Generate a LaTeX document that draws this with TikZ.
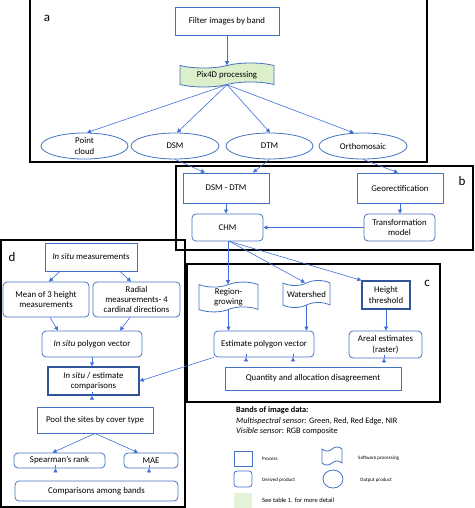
\documentclass[tikz,border=0pt]{standalone}
\usepackage{fontspec}
\setmainfont{Carlito}
\usetikzlibrary{shapes.geometric,shapes.symbols,calc,arrows.meta}
\definecolor{nb}{HTML}{4472C4}
\definecolor{ab}{HTML}{3F6FD8}
\definecolor{db}{HTML}{2F5597}
\definecolor{gf}{HTML}{DCEFCB}
\definecolor{lg}{HTML}{E3F2D9}
\begin{document}
\begin{tikzpicture}[x=1pt,y=-1pt,
  font=\fontsize{8.8}{10.3}\selectfont,
  box/.style={draw=nb, line width=0.8pt, inner sep=1pt, align=center},
  proc/.style={box},
  procB/.style={box, draw=db, line width=1.4pt},
  deriv/.style={box, rounded corners=4pt},
  outp/.style={box, ellipse},
  soft/.style={box, tape, tape bend top=in and out, tape bend bottom=in and out, tape bend height=5pt},
  panel/.style={draw=black, line width=1.2pt},
  arr/.style={-{Triangle[length=4pt,width=4pt]}, draw=ab, line width=0.6pt},
  plab/.style={font=\fontsize{13}{13}\selectfont, inner sep=0pt},
  legs/.style={font=\fontsize{5}{6}\selectfont, anchor=west, inner sep=0pt},
  legt/.style={font=\fontsize{8.3}{10}\selectfont, anchor=west, inner sep=0pt}]
\useasboundingbox (0,0) rectangle (474,508);
% panels
\draw[panel] (30,-5) rectangle (427,162);
\draw[panel] (176,166) rectangle (473,250);
\draw[panel] (1,240) rectangle (185,507);
\draw[panel] (187,264) rectangle (440,402);
\node[plab] (la) at (47,18) {a};
\node[plab] (lb) at (462,181) {b};
\node[plab] (lc) at (427,283) {c};
\node[plab] (ld) at (12,257) {d};
% panel a
\node[proc, minimum width=104pt, minimum height=28pt] (filter) at (227,21) {Filter images by band};
\node[soft, fill=gf, minimum width=94pt, minimum height=24pt] (pix) at (227,75) {Pix4D processing};
\node[outp, minimum width=87pt, minimum height=26pt] (pc) at (84.5,146) {Point\\cloud};
\node[outp, minimum width=88pt, minimum height=26pt] (dsm) at (175,146) {DSM};
\node[outp, minimum width=87pt, minimum height=26pt] (dtm) at (269.5,146) {DTM};
\node[outp, minimum width=88pt, minimum height=26pt] (ortho) at (363,146) {Orthomosaic};
\draw[arr] (filter.south) -- (pix.north);
\draw[arr] (pix.south) -- ($(pc.north)+(2.5,0)$);
\draw[arr] (pix.south) -- ($(dsm.north)+(2,0)$);
\draw[arr] (pix.south) -- ($(dtm.north)+(0.5,0)$);
\draw[arr] (pix.south) -- (ortho.125);
% panel b
\node[proc, minimum width=86pt, minimum height=30pt] (dd) at (226,188) {DSM - DTM};
\node[proc, minimum width=86pt, minimum height=30pt] (geo) at (400,188) {Georectification};
\node[deriv, minimum width=71pt, minimum height=27pt] (chm) at (227.5,227.5) {CHM};
\node[deriv, minimum width=71pt, minimum height=27pt] (tm) at (399.5,227.5) {Transformation\\model};
\draw[arr] (dsm.south) -- ($(dd.north)+(-21,0)$);
\draw[arr] (dtm.south) -- ($(dd.north)+(27,0)$);
\draw[arr] (ortho.south) -- ($(geo.north)+(-2,0)$);
\draw[arr] (dd.south) -- (dd.south |- chm.north);
\draw[arr] (geo.south) -- (geo.south |- tm.north);
\draw[arr] (tm.west) -- (chm.east);
% panel c
\node[soft, minimum width=59pt, minimum height=28pt] (rg) at (228.5,297) {Region-\\growing};
\node[soft, minimum width=47pt, minimum height=27pt] (ws) at (306.5,294) {Watershed};
\node[procB, minimum width=48pt, minimum height=28pt] (ht) at (386,295) {Height\\threshold};
\node[deriv, minimum width=100pt, minimum height=26pt] (epv) at (264,344) {Estimate polygon vector};
\node[deriv, minimum width=73pt, minimum height=27pt] (ae) at (385.5,344.5) {Areal estimates\\(raster)};
\node[proc, minimum width=176pt, minimum height=23pt] (qad) at (313,378.5) {Quantity and allocation disagreement};
\draw[arr] ($(chm.south)+(0.5,0)$) -- ($(rg.north)+(-0.5,0)$);
\draw[arr] ($(chm.south)+(2,0)$) -- ($(ws.north)+(-1.5,0)$);
\draw[arr] ($(chm.south)+(2,0)$) -- (ht.north west);
\draw[arr] (rg.south) -- (rg.south |- epv.north);
\draw[arr] (ws.south) -- (ws.south |- epv.north);
\draw[arr] (ht.south) -- (ht.south |- ae.north);
\draw[arr] ($(epv.south)+(-18,0)$) -- ($(epv.south)+(-18,0)$ |- qad.north);
\draw[arr] ($(epv.south)+(29,0)$) -- ($(epv.south)+(29,0)$ |- qad.north);
\draw[arr] ($(ae.south)+(-1.5,0)$) -- ($(ae.south)+(-1.5,0)$ |- qad.north);
% panel d
\node[proc, minimum width=92pt, minimum height=28pt] (ism) at (91,257) {\textit{In situ} measurements};
\node[deriv, minimum width=86pt, minimum height=35pt] (mean) at (46,299.5) {Mean of 3 height\\measurements};
\node[deriv, minimum width=87pt, minimum height=35pt] (rad) at (136.5,299.5) {Radial\\measurements- 4\\cardinal directions};
\node[deriv, minimum width=100pt, minimum height=26pt] (isp) at (92,344) {\textit{In situ} polygon vector};
\node[procB, minimum width=91pt, minimum height=28pt] (cmp) at (93.5,381) {\textit{In situ} / estimate\\comparisons};
\node[proc, minimum width=116pt, minimum height=26pt] (pool) at (95,420) {Pool the sites by cover type};
\node[deriv, minimum width=91pt, minimum height=15pt] (sp) at (59.5,460.5) {Spearman's rank};
\node[deriv, minimum width=54pt, minimum height=15pt] (mae) at (151,460.5) {MAE};
\node[deriv, minimum width=163pt, minimum height=20pt] (cab) at (96.5,491) {Comparisons among bands};
\draw[arr] ($(ism.south)+(-31,0)$) -- ($(mean.north)+(3,0)$);
\draw[arr] ($(ism.south)+(29,0)$) -- ($(rad.north)+(-5.5,0)$);
\draw[arr] ($(mean.south)+(4,0)$) -- ($(isp.north)+(-34,0)$);
\draw[arr] ($(rad.south)+(-6.5,0)$) -- ($(isp.north)+(28,0)$);
\draw[arr] (isp.south) -- (isp.south |- cmp.north);
\draw[arr] ($(cmp.south)+(-1.5,0)$) -- ($(cmp.south)+(-1.5,0)$ |- pool.north);
\draw[arr] (pool.south) -- ($(sp.north)+(-7,0)$);
\draw[arr] (pool.south) -- ($(mae.north)+(-13,0)$);
\draw[arr] ($(sp.south)+(-4,0)$) -- ($(sp.south)+(-4,0)$ |- cab.north);
\draw[arr] ($(mae.south)+(-2,0)$) -- ($(mae.south)+(-2,0)$ |- cab.north);
\draw[arr] (epv.south west) -- (cmp.east);
% legend
\node[legt, font=\fontsize{8.3}{10}\selectfont\bfseries] (bands) at (236,410) {Bands of image data:};
\node[legt] (multi) at (236,421) {\textit{Multispectral sensor:} Green, Red, Red Edge, NIR};
\node[legt] (vis) at (236,431.5) {\textit{Visible sensor}: RGB composite};
\node[proc, minimum width=18pt, minimum height=15pt] (lp) at (243,458.5) {};
\node[deriv, minimum width=18pt, minimum height=16pt, rounded corners=3pt] (ld2) at (243,479) {};
\node[fill=lg, minimum width=18pt, minimum height=15pt, inner sep=0pt] (lgr) at (243,500.5) {};
\node[soft, minimum width=20pt, minimum height=18pt, tape bend height=4pt] (ls) at (332,456) {};
\node[outp, minimum width=20pt, minimum height=18pt] (lo) at (333,479) {};
\node[legs] (tp) at (262,459) {Process};
\node[legs] (td) at (262,480) {Derived product};
\node[legs, font=\fontsize{6.5}{7}\selectfont] (tt) at (262,500.5) {See table 1. for more detail};
\node[legs] (tsw) at (358,458) {Software processing};
\node[legs] (tout) at (360,480) {Output product};
\end{tikzpicture}
\end{document}
